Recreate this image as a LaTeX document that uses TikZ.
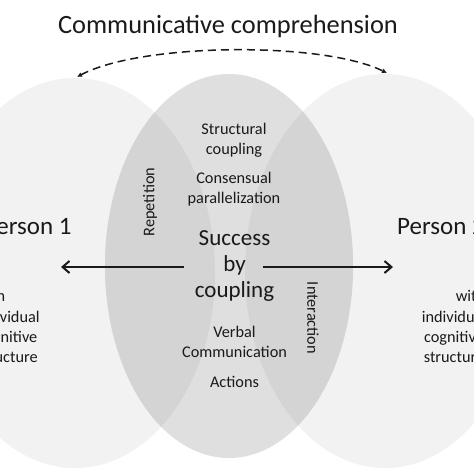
\documentclass[tikz,border=0pt]{standalone}
\usepackage{fontspec}
\setmainfont{Carlito}
\usetikzlibrary{arrows.meta,positioning}
\definecolor{OuterGray}{HTML}{F2F2F2}
\definecolor{InnerGray}{HTML}{DFDFDF}
\definecolor{LensGray}{HTML}{D4D4D4}
\definecolor{InkDark}{HTML}{1A1A1A}

\begin{document}
\begin{tikzpicture}[
	x=1pt, y=-1pt,
	title/.style={font=\fontsize{26.4}{30}\selectfont, text=InkDark, inner sep=0pt},
	person/.style={font=\fontsize{25}{28}\selectfont, text=InkDark, inner sep=0pt},
	core/.style={font=\fontsize{23}{26}\selectfont, text=InkDark, align=center, inner sep=0pt},
	label/.style={font=\fontsize{16.3}{20}\selectfont, text=InkDark, align=center, inner sep=0pt},
	arrow/.style={-{Straight Barb[length=7pt,width=12pt]}, line width=2pt, InkDark},
	dasharrow/.style={{Latex[length=5pt,width=5pt]}-{Latex[length=5pt,width=5pt]}, line width=1.5pt, dash pattern=on 8pt off 5pt, InkDark}
]
\useasboundingbox (0,0) rectangle (474,474);
\clip (0,0) rectangle (474,474);
\fill[white] (0,0) rectangle (474,474);

\fill[OuterGray] (75,273) ellipse [x radius=140, y radius=195];
\fill[OuterGray] (385,271) ellipse [x radius=140, y radius=197];
\fill[InnerGray] (229,266) ellipse [x radius=124, y radius=192];
\begin{scope}
	\clip (229,266) ellipse [x radius=124, y radius=192];
	\fill[LensGray] (75,273) ellipse [x radius=140, y radius=195];
	\fill[LensGray] (385,271) ellipse [x radius=140, y radius=197];
\end{scope}

\node[title] (comp) at (228,26) {Communicative comprehension};
\node[person] (person1) at (27.7,226.5) {Person 1};
\node[person] (person2) at (441,226.5) {Person 2};
\node[label] (with1) at (-9.5,296) {with};
\node[label] (body1) at (7.5,337) {individual\\cognitive\\structure};
\node[label] (with2) at (470.5,296) {with};
\node[label] (body2) at (454,337) {individual\\cognitive\\structure};

\node[label] (structural) at (234,140) {Structural\\coupling};
\node[label] (consensual) at (234,189) {Consensual\\parallelization};
\node[core] (success) at (234.5,266) {Success\\by\\coupling};
\node[label] (verbal) at (234.5,342) {Verbal\\Communication};
\node[label] (actions) at (234.5,382) {Actions};
\node[label, rotate=90] (repetition) at (150,202) {Repetition};
\node[label, rotate=-90] (interaction) at (313,318) {Interaction};

\coordinate (arcL) at (77,77);
\coordinate (arcR) at (387,73);
\coordinate (leftstart) at (184,267);
\coordinate (leftend) at (61,267);
\coordinate (rightstart) at (263,267);
\coordinate (rightend) at (393,267);

\draw[dasharrow] (arcL) .. controls (140,43) and (322,41) .. (arcR);
\draw[arrow] (leftstart) -- (leftend);
\draw[arrow] (rightstart) -- (rightend);
\end{tikzpicture}
\end{document}
